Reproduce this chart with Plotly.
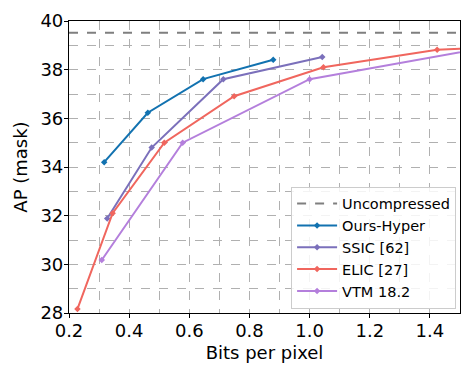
import plotly.graph_objects as go

uncompressed_ap = 39.52

ours_bpp = [0.317, 0.462, 0.646, 0.879]
ours_ap = [34.2, 36.23, 37.61, 38.41]

ssic_bpp = [0.327, 0.475, 0.713, 1.042]
ssic_ap = [31.88, 34.8, 37.61, 38.52]

elic_bpp = [0.228, 0.345, 0.517, 0.749, 1.046, 1.424, 1.6]
elic_ap = [28.16, 32.1, 35.0, 36.91, 38.1, 38.82, 38.92]

vtm_bpp = [0.309, 0.578, 1.0, 1.6]
vtm_ap = [30.18, 35.0, 37.61, 38.94]

x_range = [0.2, 1.5]
y_range = [28, 40]

FONT = "DejaVu Sans"

fig = go.Figure()

fig.add_trace(go.Scatter(
    x=x_range, y=[uncompressed_ap, uncompressed_ap], mode="lines",
    name="Uncompressed",
    line=dict(color="#7f7f7f", width=2, dash="dash"),
))

series = [
    ("Ours-Hyper", ours_bpp, ours_ap, "#1272b0"),
    ("SSIC [62]", ssic_bpp, ssic_ap, "#7b70bb"),
    ("ELIC [27]", elic_bpp, elic_ap, "#f0665e"),
    ("VTM 18.2", vtm_bpp, vtm_ap, "#b47fdc"),
]
for name, xs, ys, c in series:
    fig.add_trace(go.Scatter(
        x=xs, y=ys, mode="lines+markers", name=name,
        line=dict(color=c, width=2),
        marker=dict(symbol="diamond", size=5, color=c),
    ))

grid = dict(showgrid=True, gridcolor="#b0b0b0", griddash="dash", gridwidth=1)

fig.update_xaxes(
    range=x_range, dtick=0.2, tick0=0.2, tickformat=".1f",
    ticks="outside", ticklen=4, tickcolor="black", ticklabelstandoff=-3,
    showline=True, linecolor="black", linewidth=1.2, mirror=True,
    zeroline=False, automargin=False,
    title=dict(text="Bits per pixel", font=dict(size=18, family=FONT, color="black"), standoff=6),
    tickfont=dict(size=18, family=FONT, color="black"),
    minor=dict(dtick=0.1, tick0=0.2, showgrid=True, gridcolor="#b0b0b0", griddash="dash", ticks=""),
    **grid,
)
fig.update_yaxes(
    range=y_range, dtick=2, tick0=28,
    ticks="outside", ticklen=4, tickcolor="black", ticklabelstandoff=-3,
    showline=True, linecolor="black", linewidth=1.2, mirror=True,
    zeroline=False, automargin=False,
    title=dict(text="AP (mask)", font=dict(size=18, family=FONT, color="black"), standoff=8),
    tickfont=dict(size=18, family=FONT, color="black"),
    minor=dict(dtick=1, tick0=28, showgrid=True, gridcolor="#b0b0b0", griddash="dash", ticks=""),
    **grid,
)

# page body has an 8px margin, so the figure is sized to fit the window
fig.update_layout(
    width=466, height=371,
    margin=dict(l=61, r=14, t=13, b=66),
    paper_bgcolor="white", plot_bgcolor="white",
    showlegend=True,
    legend=dict(
        x=0.99, y=0.015, xanchor="right", yanchor="bottom",
        bgcolor="rgba(255,255,255,0.85)", bordercolor="#cccccc", borderwidth=1,
        font=dict(size=14.5, family=FONT, color="black"),
        tracegroupgap=0, itemwidth=40,
    ),
    font=dict(family=FONT),
)

fig.write_html("out.html")
